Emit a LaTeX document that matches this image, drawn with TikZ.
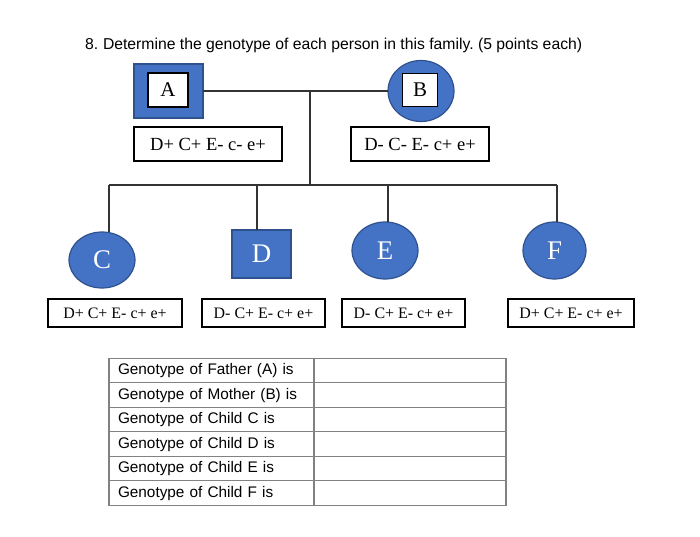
\documentclass[tikz,border=0pt]{standalone}
\usepackage{fontspec}
\setmainfont{Liberation Serif}
\setsansfont{Liberation Sans}
\usetikzlibrary{shapes.geometric}
\definecolor{pblue}{RGB}{68,114,196}
\definecolor{pblueedge}{RGB}{47,82,143}
\definecolor{tgray}{RGB}{130,130,130}
\frenchspacing
\begin{document}
\begin{tikzpicture}[x=1bp,y=-1bp,
  every node/.style={inner sep=0pt, outer sep=0pt},
  conn/.style={draw=black!80, line width=1.3bp},
  geno/.style={draw=black, line width=1.2bp, fill=white, rectangle, font=\fontsize{16}{18}\selectfont},
  pgeno/.style={geno, font=\fontsize{18.6}{21}\selectfont},
  bluesq/.style={rectangle, fill=pblue, draw=pblueedge, line width=1.2bp},
  blueel/.style={ellipse, fill=pblue, draw=pblueedge, line width=1.2bp},
  innerbox/.style={rectangle, fill=white, draw=black, line width=1.2bp, font=\fontsize{21}{24}\selectfont},
  kidlabel/.style={text=white, font=\fontsize{27}{30}\selectfont},
  cellL/.style={draw=tgray, line width=1.2bp, rectangle, text width=187bp, inner xsep=9bp, align=left, minimum height=24.5bp, anchor=north west, font=\sffamily\fontsize{15.4}{18}\selectfont},
  cellR/.style={draw=tgray, line width=1.2bp, rectangle, minimum width=192bp, minimum height=24.5bp, anchor=north west}
]
\useasboundingbox (0,0) rectangle (700,537);

% title
\node[anchor=base west, font=\sffamily\fontsize{15.8}{18}\selectfont] (num) at (85,49.5) {8.};
\node[anchor=base west, font=\sffamily\fontsize{15.8}{18}\selectfont] (title) at (103,49.5) {Determine the genotype of each person in this family. (5 points each)};

% parents
\node[bluesq, minimum width=69bp, minimum height=54bp] (A) at (168.5,91) {};
\node[innerbox, minimum width=40bp, minimum height=34bp] (Ain) at (168,90) {A};
\node[blueel, minimum width=66bp, minimum height=61bp] (B) at (421,91) {};
\node[innerbox, minimum width=35bp, minimum height=33bp] (Bin) at (420,90) {B};

\node[pgeno, minimum width=148bp, minimum height=34bp] (gA) at (208,144) {D+ C+ E- c- e+};
\node[pgeno, minimum width=138bp, minimum height=34bp] (gB) at (420,144) {D- C- E- c+ e+};

% children
\node[blueel, minimum width=66bp, minimum height=56bp, kidlabel] (C) at (102,260) {C};
\node[bluesq, minimum width=59bp, minimum height=48bp, kidlabel] (D) at (261.5,254) {D};
\node[blueel, minimum width=66bp, minimum height=57bp, kidlabel] (E) at (385,250.5) {E};
\node[blueel, minimum width=63bp, minimum height=57bp, kidlabel] (F) at (554.5,250.5) {F};

\node[geno, minimum width=134bp, minimum height=28bp] (gC) at (115,313) {D+ C+ E- c+ e+};
\node[geno, minimum width=123bp, minimum height=28bp] (gD) at (263.5,313) {D- C+ E- c+ e+};
\node[geno, minimum width=123bp, minimum height=28bp] (gE) at (403.5,313) {D- C+ E- c+ e+};
\node[geno, minimum width=126bp, minimum height=28bp] (gF) at (571,313) {D+ C+ E- c+ e+};

% connectors
\coordinate (cpl) at (310,91);
\coordinate (sib) at (310,185);
\coordinate (dC) at (109,185);
\coordinate (dD) at (257,185);
\coordinate (dE) at (388,185);
\coordinate (dF) at (557,185);
\draw[conn] (A.east |- cpl) -- (B.west |- cpl);
\draw[conn] (cpl) -- (sib);
\draw[conn] (dC) -- (dF);
\draw[conn] (dC) -- (dC |- C.north);
\draw[conn] (dD) -- (dD |- D.north);
\draw[conn] (dE) -- (dE |- E.north);
\draw[conn] (dF) -- (dF |- F.north);

% table
\node[cellL] (t1) at (109,358.3) {Genotype of Father (A) is};
\node[cellL] (t2) at (109,382.8) {Genotype of Mother (B) is};
\node[cellL] (t3) at (109,407.3) {Genotype of Child C is};
\node[cellL] (t4) at (109,431.8) {Genotype of Child D is};
\node[cellL] (t5) at (109,456.3) {Genotype of Child E is};
\node[cellL] (t6) at (109,480.8) {Genotype of Child F is};
\node[cellR] (r1) at (t1.north east) {};
\node[cellR] (r2) at (t2.north east) {};
\node[cellR] (r3) at (t3.north east) {};
\node[cellR] (r4) at (t4.north east) {};
\node[cellR] (r5) at (t5.north east) {};
\node[cellR] (r6) at (t6.north east) {};
\end{tikzpicture}
\end{document}
